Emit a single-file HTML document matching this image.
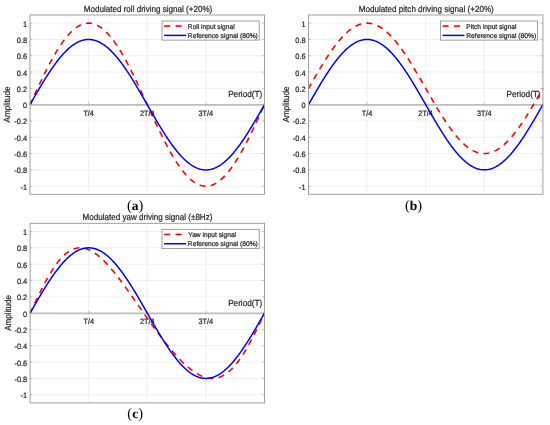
<!DOCTYPE html>
<html><head><meta charset="utf-8"><title>Modulated driving signals</title>
<style>
html,body{margin:0;padding:0;background:#fff;}
svg{display:block;}
svg text{font-family:'Liberation Sans', Arial, Helvetica, sans-serif;fill:#262626;stroke:#262626;stroke-width:0.22px;text-rendering:geometricPrecision;}
svg text.pl{font-family:'Liberation Serif', 'Times New Roman', serif;fill:#000;stroke:none;}
</style></head><body>
<svg width="550" height="425" viewBox="0 0 550 425">
<rect width="550" height="425" fill="#fff"/>
<line x1="30" y1="186.2" x2="264.5" y2="186.2" stroke="#ebebeb" stroke-width="0.8"/>
<line x1="30" y1="169.89" x2="264.5" y2="169.89" stroke="#ebebeb" stroke-width="0.8"/>
<line x1="30" y1="153.59" x2="264.5" y2="153.59" stroke="#ebebeb" stroke-width="0.8"/>
<line x1="30" y1="137.28" x2="264.5" y2="137.28" stroke="#ebebeb" stroke-width="0.8"/>
<line x1="30" y1="120.98" x2="264.5" y2="120.98" stroke="#ebebeb" stroke-width="0.8"/>
<line x1="30" y1="88.37" x2="264.5" y2="88.37" stroke="#ebebeb" stroke-width="0.8"/>
<line x1="30" y1="72.07" x2="264.5" y2="72.07" stroke="#ebebeb" stroke-width="0.8"/>
<line x1="30" y1="55.76" x2="264.5" y2="55.76" stroke="#ebebeb" stroke-width="0.8"/>
<line x1="30" y1="39.46" x2="264.5" y2="39.46" stroke="#ebebeb" stroke-width="0.8"/>
<line x1="30" y1="23.15" x2="264.5" y2="23.15" stroke="#ebebeb" stroke-width="0.8"/>
<line x1="88.62" y1="15" x2="88.62" y2="194.35" stroke="#ebebeb" stroke-width="0.8"/>
<line x1="147.25" y1="15" x2="147.25" y2="194.35" stroke="#ebebeb" stroke-width="0.8"/>
<line x1="205.88" y1="15" x2="205.88" y2="194.35" stroke="#ebebeb" stroke-width="0.8"/>
<line x1="30" y1="104.97" x2="264.5" y2="104.97" stroke="#bdbdbd" stroke-width="1.8"/>
<line x1="88.62" y1="104.67" x2="88.62" y2="102.38" stroke="#a0a0a0" stroke-width="0.6"/>
<text x="83.38" y="115.88" font-size="7.8" textLength="10.55" lengthAdjust="spacingAndGlyphs">T/4</text>
<line x1="147.25" y1="104.67" x2="147.25" y2="102.38" stroke="#a0a0a0" stroke-width="0.6"/>
<text x="139.88" y="115.88" font-size="7.8" textLength="14.61" lengthAdjust="spacingAndGlyphs">2T/4</text>
<line x1="205.88" y1="104.67" x2="205.88" y2="102.38" stroke="#a0a0a0" stroke-width="0.6"/>
<text x="198.55" y="115.88" font-size="7.8" textLength="14.61" lengthAdjust="spacingAndGlyphs">3T/4</text>
<text x="228.13" y="97.47" font-size="8.8" textLength="34.09" lengthAdjust="spacingAndGlyphs">Period(T)</text>
<polyline points="30,104.67 30.78,102.97 31.56,101.26 32.34,99.56 33.13,97.85 33.91,96.15 34.69,94.46 35.47,92.77 36.25,91.08 37.03,89.4 37.82,87.73 38.6,86.06 39.38,84.4 40.16,82.75 40.94,81.11 41.73,79.48 42.51,77.86 43.29,76.26 44.07,74.66 44.85,73.08 45.63,71.52 46.42,69.96 47.2,68.43 47.98,66.91 48.76,65.4 49.54,63.91 50.32,62.44 51.11,60.99 51.89,59.56 52.67,58.15 53.45,56.76 54.23,55.39 55.01,54.04 55.8,52.71 56.58,51.41 57.36,50.13 58.14,48.87 58.92,47.64 59.7,46.43 60.48,45.25 61.27,44.09 62.05,42.96 62.83,41.86 63.61,40.79 64.39,39.74 65.17,38.72 65.96,37.73 66.74,36.77 67.52,35.84 68.3,34.94 69.08,34.07 69.87,33.24 70.65,32.43 71.43,31.65 72.21,30.91 72.99,30.2 73.77,29.52 74.56,28.88 75.34,28.27 76.12,27.69 76.9,27.14 77.68,26.63 78.46,26.16 79.25,25.71 80.03,25.31 80.81,24.93 81.59,24.6 82.37,24.29 83.15,24.03 83.94,23.8 84.72,23.6 85.5,23.44 86.28,23.31 87.06,23.22 87.84,23.17 88.62,23.15 89.41,23.17 90.19,23.22 90.97,23.31 91.75,23.44 92.53,23.6 93.31,23.8 94.1,24.03 94.88,24.29 95.66,24.6 96.44,24.93 97.22,25.31 98,25.71 98.79,26.16 99.57,26.63 100.35,27.14 101.13,27.69 101.91,28.27 102.69,28.88 103.48,29.52 104.26,30.2 105.04,30.91 105.82,31.65 106.6,32.43 107.39,33.24 108.17,34.07 108.95,34.94 109.73,35.84 110.51,36.77 111.29,37.73 112.07,38.72 112.86,39.74 113.64,40.79 114.42,41.86 115.2,42.96 115.98,44.09 116.77,45.25 117.55,46.43 118.33,47.64 119.11,48.87 119.89,50.13 120.67,51.41 121.45,52.71 122.24,54.04 123.02,55.39 123.8,56.76 124.58,58.15 125.36,59.56 126.14,60.99 126.93,62.44 127.71,63.91 128.49,65.4 129.27,66.91 130.05,68.43 130.83,69.96 131.62,71.52 132.4,73.08 133.18,74.66 133.96,76.26 134.74,77.86 135.53,79.48 136.31,81.11 137.09,82.75 137.87,84.4 138.65,86.06 139.43,87.73 140.21,89.4 141,91.08 141.78,92.77 142.56,94.46 143.34,96.15 144.12,97.85 144.91,99.56 145.69,101.26 146.47,102.97 147.25,104.67 148.03,106.38 148.81,108.09 149.59,109.79 150.38,111.5 151.16,113.2 151.94,114.89 152.72,116.58 153.5,118.27 154.29,119.95 155.07,121.62 155.85,123.29 156.63,124.95 157.41,126.6 158.19,128.24 158.98,129.87 159.76,131.49 160.54,133.09 161.32,134.69 162.1,136.27 162.88,137.83 163.66,139.39 164.45,140.92 165.23,142.44 166.01,143.95 166.79,145.44 167.57,146.91 168.35,148.36 169.14,149.79 169.92,151.2 170.7,152.59 171.48,153.96 172.26,155.31 173.04,156.64 173.83,157.94 174.61,159.22 175.39,160.48 176.17,161.71 176.95,162.92 177.74,164.1 178.52,165.26 179.3,166.39 180.08,167.49 180.86,168.56 181.64,169.61 182.43,170.63 183.21,171.62 183.99,172.58 184.77,173.51 185.55,174.41 186.33,175.28 187.12,176.11 187.9,176.92 188.68,177.7 189.46,178.44 190.24,179.15 191.02,179.83 191.8,180.47 192.59,181.08 193.37,181.66 194.15,182.21 194.93,182.72 195.71,183.19 196.5,183.64 197.28,184.04 198.06,184.42 198.84,184.75 199.62,185.06 200.4,185.32 201.19,185.55 201.97,185.75 202.75,185.91 203.53,186.04 204.31,186.13 205.09,186.18 205.88,186.2 206.66,186.18 207.44,186.13 208.22,186.04 209,185.91 209.78,185.75 210.56,185.55 211.35,185.32 212.13,185.06 212.91,184.75 213.69,184.42 214.47,184.04 215.25,183.64 216.04,183.19 216.82,182.72 217.6,182.21 218.38,181.66 219.16,181.08 219.95,180.47 220.73,179.83 221.51,179.15 222.29,178.44 223.07,177.7 223.85,176.92 224.63,176.11 225.42,175.28 226.2,174.41 226.98,173.51 227.76,172.58 228.54,171.62 229.32,170.63 230.11,169.61 230.89,168.56 231.67,167.49 232.45,166.39 233.23,165.26 234.01,164.1 234.8,162.92 235.58,161.71 236.36,160.48 237.14,159.22 237.92,157.94 238.71,156.64 239.49,155.31 240.27,153.96 241.05,152.59 241.83,151.2 242.61,149.79 243.4,148.36 244.18,146.91 244.96,145.44 245.74,143.95 246.52,142.44 247.3,140.92 248.09,139.39 248.87,137.83 249.65,136.27 250.43,134.69 251.21,133.09 251.99,131.49 252.77,129.87 253.56,128.24 254.34,126.6 255.12,124.95 255.9,123.29 256.68,121.62 257.47,119.95 258.25,118.27 259.03,116.58 259.81,114.89 260.59,113.2 261.37,111.5 262.15,109.79 262.94,108.09 263.72,106.38 264.5,104.68" fill="none" stroke="#ff0000" stroke-width="1.6" stroke-dasharray="6 5.34" stroke-dashoffset="0.6"/>
<polyline points="30,104.67 30.78,103.31 31.56,101.94 32.34,100.58 33.13,99.22 33.91,97.86 34.69,96.5 35.47,95.15 36.25,93.8 37.03,92.45 37.82,91.12 38.6,89.78 39.38,88.46 40.16,87.14 40.94,85.82 41.73,84.52 42.51,83.23 43.29,81.94 44.07,80.67 44.85,79.4 45.63,78.15 46.42,76.91 47.2,75.68 47.98,74.46 48.76,73.26 49.54,72.07 50.32,70.89 51.11,69.73 51.89,68.58 52.67,67.45 53.45,66.34 54.23,65.24 55.01,64.16 55.8,63.1 56.58,62.06 57.36,61.04 58.14,60.03 58.92,59.04 59.7,58.08 60.48,57.13 61.27,56.21 62.05,55.31 62.83,54.42 63.61,53.56 64.39,52.73 65.17,51.91 65.96,51.12 66.74,50.35 67.52,49.61 68.3,48.89 69.08,48.19 69.87,47.52 70.65,46.88 71.43,46.26 72.21,45.66 72.99,45.1 73.77,44.55 74.56,44.04 75.34,43.55 76.12,43.08 76.9,42.65 77.68,42.24 78.46,41.86 79.25,41.51 80.03,41.18 80.81,40.88 81.59,40.61 82.37,40.37 83.15,40.16 83.94,39.97 84.72,39.81 85.5,39.69 86.28,39.59 87.06,39.51 87.84,39.47 88.62,39.46 89.41,39.47 90.19,39.51 90.97,39.59 91.75,39.69 92.53,39.81 93.31,39.97 94.1,40.16 94.88,40.37 95.66,40.61 96.44,40.88 97.22,41.18 98,41.51 98.79,41.86 99.57,42.24 100.35,42.65 101.13,43.08 101.91,43.55 102.69,44.04 103.48,44.55 104.26,45.1 105.04,45.66 105.82,46.26 106.6,46.88 107.39,47.52 108.17,48.19 108.95,48.89 109.73,49.61 110.51,50.35 111.29,51.12 112.07,51.91 112.86,52.73 113.64,53.56 114.42,54.42 115.2,55.31 115.98,56.21 116.77,57.13 117.55,58.08 118.33,59.04 119.11,60.03 119.89,61.04 120.67,62.06 121.45,63.1 122.24,64.16 123.02,65.24 123.8,66.34 124.58,67.45 125.36,68.58 126.14,69.73 126.93,70.89 127.71,72.07 128.49,73.26 129.27,74.46 130.05,75.68 130.83,76.91 131.62,78.15 132.4,79.4 133.18,80.67 133.96,81.94 134.74,83.23 135.53,84.52 136.31,85.82 137.09,87.14 137.87,88.46 138.65,89.78 139.43,91.12 140.21,92.45 141,93.8 141.78,95.15 142.56,96.5 143.34,97.86 144.12,99.22 144.91,100.58 145.69,101.94 146.47,103.31 147.25,104.67 148.03,106.04 148.81,107.41 149.59,108.77 150.38,110.13 151.16,111.49 151.94,112.85 152.72,114.2 153.5,115.55 154.29,116.9 155.07,118.23 155.85,119.57 156.63,120.89 157.41,122.21 158.19,123.53 158.98,124.83 159.76,126.12 160.54,127.41 161.32,128.68 162.1,129.95 162.88,131.2 163.66,132.44 164.45,133.67 165.23,134.89 166.01,136.09 166.79,137.28 167.57,138.46 168.35,139.62 169.14,140.77 169.92,141.9 170.7,143.01 171.48,144.11 172.26,145.19 173.04,146.25 173.83,147.29 174.61,148.31 175.39,149.32 176.17,150.31 176.95,151.27 177.74,152.22 178.52,153.14 179.3,154.04 180.08,154.93 180.86,155.79 181.64,156.62 182.43,157.44 183.21,158.23 183.99,159 184.77,159.74 185.55,160.46 186.33,161.16 187.12,161.83 187.9,162.47 188.68,163.09 189.46,163.69 190.24,164.25 191.02,164.8 191.8,165.31 192.59,165.8 193.37,166.27 194.15,166.7 194.93,167.11 195.71,167.49 196.5,167.84 197.28,168.17 198.06,168.47 198.84,168.74 199.62,168.98 200.4,169.19 201.19,169.38 201.97,169.54 202.75,169.66 203.53,169.76 204.31,169.84 205.09,169.88 205.88,169.89 206.66,169.88 207.44,169.84 208.22,169.76 209,169.66 209.78,169.54 210.56,169.38 211.35,169.19 212.13,168.98 212.91,168.74 213.69,168.47 214.47,168.17 215.25,167.84 216.04,167.49 216.82,167.11 217.6,166.7 218.38,166.27 219.16,165.8 219.95,165.31 220.73,164.8 221.51,164.25 222.29,163.69 223.07,163.09 223.85,162.47 224.63,161.83 225.42,161.16 226.2,160.46 226.98,159.74 227.76,159 228.54,158.23 229.32,157.44 230.11,156.62 230.89,155.79 231.67,154.93 232.45,154.04 233.23,153.14 234.01,152.22 234.8,151.27 235.58,150.31 236.36,149.32 237.14,148.31 237.92,147.29 238.71,146.25 239.49,145.19 240.27,144.11 241.05,143.01 241.83,141.9 242.61,140.77 243.4,139.62 244.18,138.46 244.96,137.28 245.74,136.09 246.52,134.89 247.3,133.67 248.09,132.44 248.87,131.2 249.65,129.95 250.43,128.68 251.21,127.41 251.99,126.12 252.77,124.83 253.56,123.53 254.34,122.21 255.12,120.89 255.9,119.57 256.68,118.23 257.47,116.9 258.25,115.55 259.03,114.2 259.81,112.85 260.59,111.49 261.37,110.13 262.15,108.77 262.94,107.41 263.72,106.04 264.5,104.68" fill="none" stroke="#0000ff" stroke-width="1.5"/>
<rect x="30" y="15" width="234.5" height="179.35" fill="none" stroke="#a0a0a0" stroke-width="1"/>
<line x1="30" y1="186.2" x2="32.3" y2="186.2" stroke="#a0a0a0" stroke-width="0.6"/>
<line x1="262.2" y1="186.2" x2="264.5" y2="186.2" stroke="#a0a0a0" stroke-width="0.6"/>
<text x="20.52" y="189.7" font-size="7.8" textLength="6.58" lengthAdjust="spacingAndGlyphs">-1</text>
<line x1="30" y1="169.89" x2="32.3" y2="169.89" stroke="#a0a0a0" stroke-width="0.6"/>
<line x1="262.2" y1="169.89" x2="264.5" y2="169.89" stroke="#a0a0a0" stroke-width="0.6"/>
<text x="14.35" y="173.39" font-size="7.8" textLength="12.75" lengthAdjust="spacingAndGlyphs">-0.8</text>
<line x1="30" y1="153.59" x2="32.3" y2="153.59" stroke="#a0a0a0" stroke-width="0.6"/>
<line x1="262.2" y1="153.59" x2="264.5" y2="153.59" stroke="#a0a0a0" stroke-width="0.6"/>
<text x="14.35" y="157.09" font-size="7.8" textLength="12.75" lengthAdjust="spacingAndGlyphs">-0.6</text>
<line x1="30" y1="137.28" x2="32.3" y2="137.28" stroke="#a0a0a0" stroke-width="0.6"/>
<line x1="262.2" y1="137.28" x2="264.5" y2="137.28" stroke="#a0a0a0" stroke-width="0.6"/>
<text x="14.35" y="140.78" font-size="7.8" textLength="12.75" lengthAdjust="spacingAndGlyphs">-0.4</text>
<line x1="30" y1="120.98" x2="32.3" y2="120.98" stroke="#a0a0a0" stroke-width="0.6"/>
<line x1="262.2" y1="120.98" x2="264.5" y2="120.98" stroke="#a0a0a0" stroke-width="0.6"/>
<text x="14.35" y="124.48" font-size="7.8" textLength="12.75" lengthAdjust="spacingAndGlyphs">-0.2</text>
<line x1="30" y1="104.67" x2="32.3" y2="104.67" stroke="#a0a0a0" stroke-width="0.6"/>
<line x1="262.2" y1="104.67" x2="264.5" y2="104.67" stroke="#a0a0a0" stroke-width="0.6"/>
<text x="22.98" y="108.17" font-size="7.8" textLength="4.12" lengthAdjust="spacingAndGlyphs">0</text>
<line x1="30" y1="88.37" x2="32.3" y2="88.37" stroke="#a0a0a0" stroke-width="0.6"/>
<line x1="262.2" y1="88.37" x2="264.5" y2="88.37" stroke="#a0a0a0" stroke-width="0.6"/>
<text x="16.81" y="91.87" font-size="7.8" textLength="10.29" lengthAdjust="spacingAndGlyphs">0.2</text>
<line x1="30" y1="72.07" x2="32.3" y2="72.07" stroke="#a0a0a0" stroke-width="0.6"/>
<line x1="262.2" y1="72.07" x2="264.5" y2="72.07" stroke="#a0a0a0" stroke-width="0.6"/>
<text x="16.81" y="75.57" font-size="7.8" textLength="10.29" lengthAdjust="spacingAndGlyphs">0.4</text>
<line x1="30" y1="55.76" x2="32.3" y2="55.76" stroke="#a0a0a0" stroke-width="0.6"/>
<line x1="262.2" y1="55.76" x2="264.5" y2="55.76" stroke="#a0a0a0" stroke-width="0.6"/>
<text x="16.81" y="59.26" font-size="7.8" textLength="10.29" lengthAdjust="spacingAndGlyphs">0.6</text>
<line x1="30" y1="39.46" x2="32.3" y2="39.46" stroke="#a0a0a0" stroke-width="0.6"/>
<line x1="262.2" y1="39.46" x2="264.5" y2="39.46" stroke="#a0a0a0" stroke-width="0.6"/>
<text x="16.81" y="42.96" font-size="7.8" textLength="10.29" lengthAdjust="spacingAndGlyphs">0.8</text>
<line x1="30" y1="23.15" x2="32.3" y2="23.15" stroke="#a0a0a0" stroke-width="0.6"/>
<line x1="262.2" y1="23.15" x2="264.5" y2="23.15" stroke="#a0a0a0" stroke-width="0.6"/>
<text x="22.98" y="26.65" font-size="7.8" textLength="4.12" lengthAdjust="spacingAndGlyphs">1</text>
<g transform="translate(10.4,104.67) rotate(-90)"><text x="-17.72" y="0" font-size="8.8" textLength="35.78" lengthAdjust="spacingAndGlyphs">Amplitude</text></g>
<text x="83.74" y="11.9" font-size="8.8" textLength="128.57" lengthAdjust="spacingAndGlyphs">Modulated roll driving signal (+20%)</text>
<rect x="162" y="21" width="97.2" height="19.1" fill="#fff" stroke="#8a8a8a" stroke-width="0.8"/>
<line x1="164.1" y1="26.1" x2="170.1" y2="26.1" stroke="#ff0000" stroke-width="1.6"/>
<line x1="175.6" y1="26.1" x2="181.6" y2="26.1" stroke="#ff0000" stroke-width="1.6"/>
<line x1="164.1" y1="35.4" x2="186.1" y2="35.4" stroke="#0000ff" stroke-width="1.5"/>
<text x="187.86" y="28.6" font-size="6.9" textLength="46.8" lengthAdjust="spacingAndGlyphs">Roll input signal</text>
<text x="187.85" y="37.9" font-size="6.9" textLength="69.98" lengthAdjust="spacingAndGlyphs">Reference signal (80%)</text>
<line x1="308.5" y1="186.15" x2="542.9" y2="186.15" stroke="#ebebeb" stroke-width="0.8"/>
<line x1="308.5" y1="169.85" x2="542.9" y2="169.85" stroke="#ebebeb" stroke-width="0.8"/>
<line x1="308.5" y1="153.55" x2="542.9" y2="153.55" stroke="#ebebeb" stroke-width="0.8"/>
<line x1="308.5" y1="137.25" x2="542.9" y2="137.25" stroke="#ebebeb" stroke-width="0.8"/>
<line x1="308.5" y1="120.95" x2="542.9" y2="120.95" stroke="#ebebeb" stroke-width="0.8"/>
<line x1="308.5" y1="88.35" x2="542.9" y2="88.35" stroke="#ebebeb" stroke-width="0.8"/>
<line x1="308.5" y1="72.05" x2="542.9" y2="72.05" stroke="#ebebeb" stroke-width="0.8"/>
<line x1="308.5" y1="55.75" x2="542.9" y2="55.75" stroke="#ebebeb" stroke-width="0.8"/>
<line x1="308.5" y1="39.45" x2="542.9" y2="39.45" stroke="#ebebeb" stroke-width="0.8"/>
<line x1="308.5" y1="23.15" x2="542.9" y2="23.15" stroke="#ebebeb" stroke-width="0.8"/>
<line x1="367.1" y1="15" x2="367.1" y2="194.3" stroke="#ebebeb" stroke-width="0.8"/>
<line x1="425.7" y1="15" x2="425.7" y2="194.3" stroke="#ebebeb" stroke-width="0.8"/>
<line x1="484.3" y1="15" x2="484.3" y2="194.3" stroke="#ebebeb" stroke-width="0.8"/>
<line x1="308.5" y1="104.95" x2="542.9" y2="104.95" stroke="#bdbdbd" stroke-width="1.8"/>
<line x1="367.1" y1="104.65" x2="367.1" y2="102.35" stroke="#a0a0a0" stroke-width="0.6"/>
<text x="361.86" y="115.85" font-size="7.8" textLength="10.55" lengthAdjust="spacingAndGlyphs">T/4</text>
<line x1="425.7" y1="104.65" x2="425.7" y2="102.35" stroke="#a0a0a0" stroke-width="0.6"/>
<text x="418.33" y="115.85" font-size="7.8" textLength="14.61" lengthAdjust="spacingAndGlyphs">2T/4</text>
<line x1="484.3" y1="104.65" x2="484.3" y2="102.35" stroke="#a0a0a0" stroke-width="0.6"/>
<text x="476.97" y="115.85" font-size="7.8" textLength="14.61" lengthAdjust="spacingAndGlyphs">3T/4</text>
<text x="506.53" y="97.45" font-size="8.8" textLength="34.09" lengthAdjust="spacingAndGlyphs">Period(T)</text>
<polyline points="308.5,88.35 309.28,86.98 310.06,85.62 310.84,84.26 311.63,82.89 312.41,81.53 313.19,80.18 313.97,78.83 314.75,77.48 315.53,76.13 316.31,74.79 317.09,73.46 317.88,72.14 318.66,70.82 319.44,69.51 320.22,68.2 321,66.91 321.78,65.62 322.56,64.35 323.35,63.08 324.13,61.83 324.91,60.59 325.69,59.36 326.47,58.14 327.25,56.94 328.03,55.75 328.81,54.57 329.6,53.41 330.38,52.27 331.16,51.14 331.94,50.03 332.72,48.93 333.5,47.85 334.28,46.79 335.07,45.75 335.85,44.72 336.63,43.72 337.41,42.73 338.19,41.77 338.97,40.82 339.75,39.9 340.53,38.99 341.32,38.11 342.1,37.25 342.88,36.42 343.66,35.6 344.44,34.81 345.22,34.04 346,33.3 346.79,32.58 347.57,31.89 348.35,31.21 349.13,30.57 349.91,29.95 350.69,29.36 351.47,28.79 352.25,28.24 353.04,27.73 353.82,27.24 354.6,26.78 355.38,26.34 356.16,25.93 356.94,25.55 357.72,25.2 358.51,24.87 359.29,24.57 360.07,24.3 360.85,24.06 361.63,23.85 362.41,23.66 363.19,23.51 363.97,23.38 364.76,23.28 365.54,23.21 366.32,23.16 367.1,23.15 367.88,23.16 368.66,23.21 369.44,23.28 370.23,23.38 371.01,23.51 371.79,23.66 372.57,23.85 373.35,24.06 374.13,24.3 374.91,24.57 375.69,24.87 376.48,25.2 377.26,25.55 378.04,25.93 378.82,26.34 379.6,26.78 380.38,27.24 381.16,27.73 381.95,28.24 382.73,28.79 383.51,29.36 384.29,29.95 385.07,30.57 385.85,31.21 386.63,31.89 387.41,32.58 388.2,33.3 388.98,34.04 389.76,34.81 390.54,35.6 391.32,36.42 392.1,37.25 392.88,38.11 393.67,38.99 394.45,39.9 395.23,40.82 396.01,41.77 396.79,42.73 397.57,43.72 398.35,44.72 399.13,45.75 399.92,46.79 400.7,47.85 401.48,48.93 402.26,50.03 403.04,51.14 403.82,52.27 404.6,53.41 405.39,54.57 406.17,55.75 406.95,56.94 407.73,58.14 408.51,59.36 409.29,60.59 410.07,61.83 410.85,63.08 411.64,64.35 412.42,65.62 413.2,66.91 413.98,68.2 414.76,69.51 415.54,70.82 416.32,72.14 417.11,73.46 417.89,74.79 418.67,76.13 419.45,77.48 420.23,78.83 421.01,80.18 421.79,81.53 422.57,82.89 423.36,84.26 424.14,85.62 424.92,86.98 425.7,88.35 426.48,89.72 427.26,91.08 428.04,92.44 428.83,93.81 429.61,95.17 430.39,96.52 431.17,97.87 431.95,99.22 432.73,100.57 433.51,101.91 434.29,103.24 435.08,104.56 435.86,105.88 436.64,107.19 437.42,108.5 438.2,109.79 438.98,111.08 439.76,112.35 440.55,113.62 441.33,114.87 442.11,116.11 442.89,117.34 443.67,118.56 444.45,119.76 445.23,120.95 446.01,122.13 446.8,123.29 447.58,124.43 448.36,125.56 449.14,126.67 449.92,127.77 450.7,128.85 451.48,129.91 452.27,130.95 453.05,131.98 453.83,132.98 454.61,133.97 455.39,134.93 456.17,135.88 456.95,136.8 457.73,137.71 458.52,138.59 459.3,139.45 460.08,140.28 460.86,141.1 461.64,141.89 462.42,142.66 463.2,143.4 463.99,144.12 464.77,144.81 465.55,145.49 466.33,146.13 467.11,146.75 467.89,147.34 468.67,147.91 469.45,148.46 470.24,148.97 471.02,149.46 471.8,149.92 472.58,150.36 473.36,150.77 474.14,151.15 474.92,151.5 475.71,151.83 476.49,152.13 477.27,152.4 478.05,152.64 478.83,152.85 479.61,153.04 480.39,153.19 481.17,153.32 481.96,153.42 482.74,153.49 483.52,153.54 484.3,153.55 485.08,153.54 485.86,153.49 486.64,153.42 487.43,153.32 488.21,153.19 488.99,153.04 489.77,152.85 490.55,152.64 491.33,152.4 492.11,152.13 492.89,151.83 493.68,151.5 494.46,151.15 495.24,150.77 496.02,150.36 496.8,149.92 497.58,149.46 498.36,148.97 499.15,148.46 499.93,147.91 500.71,147.34 501.49,146.75 502.27,146.13 503.05,145.49 503.83,144.81 504.61,144.12 505.4,143.4 506.18,142.66 506.96,141.89 507.74,141.1 508.52,140.28 509.3,139.45 510.08,138.59 510.87,137.71 511.65,136.8 512.43,135.88 513.21,134.93 513.99,133.97 514.77,132.98 515.55,131.98 516.33,130.95 517.12,129.91 517.9,128.85 518.68,127.77 519.46,126.67 520.24,125.56 521.02,124.43 521.8,123.29 522.59,122.13 523.37,120.95 524.15,119.76 524.93,118.56 525.71,117.34 526.49,116.11 527.27,114.87 528.05,113.62 528.84,112.35 529.62,111.08 530.4,109.79 531.18,108.5 531.96,107.19 532.74,105.88 533.52,104.56 534.31,103.24 535.09,101.91 535.87,100.57 536.65,99.22 537.43,97.87 538.21,96.52 538.99,95.17 539.77,93.81 540.56,92.44 541.34,91.08 542.12,89.72 542.9,88.35" fill="none" stroke="#ff0000" stroke-width="1.6" stroke-dasharray="6 5.34" stroke-dashoffset="0.6"/>
<polyline points="308.5,104.65 309.28,103.28 310.06,101.92 310.84,100.56 311.63,99.19 312.41,97.83 313.19,96.48 313.97,95.13 314.75,93.78 315.53,92.43 316.31,91.09 317.09,89.76 317.88,88.44 318.66,87.12 319.44,85.81 320.22,84.5 321,83.21 321.78,81.92 322.56,80.65 323.35,79.38 324.13,78.13 324.91,76.89 325.69,75.66 326.47,74.44 327.25,73.24 328.03,72.05 328.81,70.87 329.6,69.71 330.38,68.57 331.16,67.44 331.94,66.33 332.72,65.23 333.5,64.15 334.28,63.09 335.07,62.05 335.85,61.02 336.63,60.02 337.41,59.03 338.19,58.07 338.97,57.12 339.75,56.2 340.53,55.29 341.32,54.41 342.1,53.55 342.88,52.72 343.66,51.9 344.44,51.11 345.22,50.34 346,49.6 346.79,48.88 347.57,48.19 348.35,47.51 349.13,46.87 349.91,46.25 350.69,45.66 351.47,45.09 352.25,44.54 353.04,44.03 353.82,43.54 354.6,43.08 355.38,42.64 356.16,42.23 356.94,41.85 357.72,41.5 358.51,41.17 359.29,40.87 360.07,40.6 360.85,40.36 361.63,40.15 362.41,39.96 363.19,39.81 363.97,39.68 364.76,39.58 365.54,39.51 366.32,39.46 367.1,39.45 367.88,39.46 368.66,39.51 369.44,39.58 370.23,39.68 371.01,39.81 371.79,39.96 372.57,40.15 373.35,40.36 374.13,40.6 374.91,40.87 375.69,41.17 376.48,41.5 377.26,41.85 378.04,42.23 378.82,42.64 379.6,43.08 380.38,43.54 381.16,44.03 381.95,44.54 382.73,45.09 383.51,45.66 384.29,46.25 385.07,46.87 385.85,47.51 386.63,48.19 387.41,48.88 388.2,49.6 388.98,50.34 389.76,51.11 390.54,51.9 391.32,52.72 392.1,53.55 392.88,54.41 393.67,55.29 394.45,56.2 395.23,57.12 396.01,58.07 396.79,59.03 397.57,60.02 398.35,61.02 399.13,62.05 399.92,63.09 400.7,64.15 401.48,65.23 402.26,66.33 403.04,67.44 403.82,68.57 404.6,69.71 405.39,70.87 406.17,72.05 406.95,73.24 407.73,74.44 408.51,75.66 409.29,76.89 410.07,78.13 410.85,79.38 411.64,80.65 412.42,81.92 413.2,83.21 413.98,84.5 414.76,85.81 415.54,87.12 416.32,88.44 417.11,89.76 417.89,91.09 418.67,92.43 419.45,93.78 420.23,95.13 421.01,96.48 421.79,97.83 422.57,99.19 423.36,100.56 424.14,101.92 424.92,103.28 425.7,104.65 426.48,106.02 427.26,107.38 428.04,108.74 428.83,110.11 429.61,111.47 430.39,112.82 431.17,114.17 431.95,115.52 432.73,116.87 433.51,118.21 434.29,119.54 435.08,120.86 435.86,122.18 436.64,123.49 437.42,124.8 438.2,126.09 438.98,127.38 439.76,128.65 440.55,129.92 441.33,131.17 442.11,132.41 442.89,133.64 443.67,134.86 444.45,136.06 445.23,137.25 446.01,138.43 446.8,139.59 447.58,140.73 448.36,141.86 449.14,142.97 449.92,144.07 450.7,145.15 451.48,146.21 452.27,147.25 453.05,148.28 453.83,149.28 454.61,150.27 455.39,151.23 456.17,152.18 456.95,153.1 457.73,154.01 458.52,154.89 459.3,155.75 460.08,156.58 460.86,157.4 461.64,158.19 462.42,158.96 463.2,159.7 463.99,160.42 464.77,161.11 465.55,161.79 466.33,162.43 467.11,163.05 467.89,163.64 468.67,164.21 469.45,164.76 470.24,165.27 471.02,165.76 471.8,166.22 472.58,166.66 473.36,167.07 474.14,167.45 474.92,167.8 475.71,168.13 476.49,168.43 477.27,168.7 478.05,168.94 478.83,169.15 479.61,169.34 480.39,169.49 481.17,169.62 481.96,169.72 482.74,169.79 483.52,169.84 484.3,169.85 485.08,169.84 485.86,169.79 486.64,169.72 487.43,169.62 488.21,169.49 488.99,169.34 489.77,169.15 490.55,168.94 491.33,168.7 492.11,168.43 492.89,168.13 493.68,167.8 494.46,167.45 495.24,167.07 496.02,166.66 496.8,166.22 497.58,165.76 498.36,165.27 499.15,164.76 499.93,164.21 500.71,163.64 501.49,163.05 502.27,162.43 503.05,161.79 503.83,161.11 504.61,160.42 505.4,159.7 506.18,158.96 506.96,158.19 507.74,157.4 508.52,156.58 509.3,155.75 510.08,154.89 510.87,154.01 511.65,153.1 512.43,152.18 513.21,151.23 513.99,150.27 514.77,149.28 515.55,148.28 516.33,147.25 517.12,146.21 517.9,145.15 518.68,144.07 519.46,142.97 520.24,141.86 521.02,140.73 521.8,139.59 522.59,138.43 523.37,137.25 524.15,136.06 524.93,134.86 525.71,133.64 526.49,132.41 527.27,131.17 528.05,129.92 528.84,128.65 529.62,127.38 530.4,126.09 531.18,124.8 531.96,123.49 532.74,122.18 533.52,120.86 534.31,119.54 535.09,118.21 535.87,116.87 536.65,115.52 537.43,114.17 538.21,112.82 538.99,111.47 539.77,110.11 540.56,108.74 541.34,107.38 542.12,106.02 542.9,104.65" fill="none" stroke="#0000ff" stroke-width="1.5"/>
<rect x="308.5" y="15" width="234.4" height="179.3" fill="none" stroke="#a0a0a0" stroke-width="1"/>
<line x1="308.5" y1="186.15" x2="310.8" y2="186.15" stroke="#a0a0a0" stroke-width="0.6"/>
<line x1="540.6" y1="186.15" x2="542.9" y2="186.15" stroke="#a0a0a0" stroke-width="0.6"/>
<text x="299.02" y="189.65" font-size="7.8" textLength="6.58" lengthAdjust="spacingAndGlyphs">-1</text>
<line x1="308.5" y1="169.85" x2="310.8" y2="169.85" stroke="#a0a0a0" stroke-width="0.6"/>
<line x1="540.6" y1="169.85" x2="542.9" y2="169.85" stroke="#a0a0a0" stroke-width="0.6"/>
<text x="292.85" y="173.35" font-size="7.8" textLength="12.75" lengthAdjust="spacingAndGlyphs">-0.8</text>
<line x1="308.5" y1="153.55" x2="310.8" y2="153.55" stroke="#a0a0a0" stroke-width="0.6"/>
<line x1="540.6" y1="153.55" x2="542.9" y2="153.55" stroke="#a0a0a0" stroke-width="0.6"/>
<text x="292.85" y="157.05" font-size="7.8" textLength="12.75" lengthAdjust="spacingAndGlyphs">-0.6</text>
<line x1="308.5" y1="137.25" x2="310.8" y2="137.25" stroke="#a0a0a0" stroke-width="0.6"/>
<line x1="540.6" y1="137.25" x2="542.9" y2="137.25" stroke="#a0a0a0" stroke-width="0.6"/>
<text x="292.85" y="140.75" font-size="7.8" textLength="12.75" lengthAdjust="spacingAndGlyphs">-0.4</text>
<line x1="308.5" y1="120.95" x2="310.8" y2="120.95" stroke="#a0a0a0" stroke-width="0.6"/>
<line x1="540.6" y1="120.95" x2="542.9" y2="120.95" stroke="#a0a0a0" stroke-width="0.6"/>
<text x="292.85" y="124.45" font-size="7.8" textLength="12.75" lengthAdjust="spacingAndGlyphs">-0.2</text>
<line x1="308.5" y1="104.65" x2="310.8" y2="104.65" stroke="#a0a0a0" stroke-width="0.6"/>
<line x1="540.6" y1="104.65" x2="542.9" y2="104.65" stroke="#a0a0a0" stroke-width="0.6"/>
<text x="301.48" y="108.15" font-size="7.8" textLength="4.12" lengthAdjust="spacingAndGlyphs">0</text>
<line x1="308.5" y1="88.35" x2="310.8" y2="88.35" stroke="#a0a0a0" stroke-width="0.6"/>
<line x1="540.6" y1="88.35" x2="542.9" y2="88.35" stroke="#a0a0a0" stroke-width="0.6"/>
<text x="295.31" y="91.85" font-size="7.8" textLength="10.29" lengthAdjust="spacingAndGlyphs">0.2</text>
<line x1="308.5" y1="72.05" x2="310.8" y2="72.05" stroke="#a0a0a0" stroke-width="0.6"/>
<line x1="540.6" y1="72.05" x2="542.9" y2="72.05" stroke="#a0a0a0" stroke-width="0.6"/>
<text x="295.31" y="75.55" font-size="7.8" textLength="10.29" lengthAdjust="spacingAndGlyphs">0.4</text>
<line x1="308.5" y1="55.75" x2="310.8" y2="55.75" stroke="#a0a0a0" stroke-width="0.6"/>
<line x1="540.6" y1="55.75" x2="542.9" y2="55.75" stroke="#a0a0a0" stroke-width="0.6"/>
<text x="295.31" y="59.25" font-size="7.8" textLength="10.29" lengthAdjust="spacingAndGlyphs">0.6</text>
<line x1="308.5" y1="39.45" x2="310.8" y2="39.45" stroke="#a0a0a0" stroke-width="0.6"/>
<line x1="540.6" y1="39.45" x2="542.9" y2="39.45" stroke="#a0a0a0" stroke-width="0.6"/>
<text x="295.31" y="42.95" font-size="7.8" textLength="10.29" lengthAdjust="spacingAndGlyphs">0.8</text>
<line x1="308.5" y1="23.15" x2="310.8" y2="23.15" stroke="#a0a0a0" stroke-width="0.6"/>
<line x1="540.6" y1="23.15" x2="542.9" y2="23.15" stroke="#a0a0a0" stroke-width="0.6"/>
<text x="301.48" y="26.65" font-size="7.8" textLength="4.12" lengthAdjust="spacingAndGlyphs">1</text>
<g transform="translate(288.9,104.65) rotate(-90)"><text x="-17.72" y="0" font-size="8.8" textLength="35.78" lengthAdjust="spacingAndGlyphs">Amplitude</text></g>
<text x="358.84" y="11.8" font-size="8.8" textLength="134.98" lengthAdjust="spacingAndGlyphs">Modulated pitch driving signal (+20%)</text>
<rect x="440.4" y="21" width="97.2" height="19.1" fill="#fff" stroke="#8a8a8a" stroke-width="0.8"/>
<line x1="442.5" y1="26.1" x2="448.5" y2="26.1" stroke="#ff0000" stroke-width="1.6"/>
<line x1="454" y1="26.1" x2="460" y2="26.1" stroke="#ff0000" stroke-width="1.6"/>
<line x1="442.5" y1="35.4" x2="464.5" y2="35.4" stroke="#0000ff" stroke-width="1.5"/>
<text x="466.26" y="28.6" font-size="6.9" textLength="50.12" lengthAdjust="spacingAndGlyphs">Pitch input signal</text>
<text x="466.25" y="37.9" font-size="6.9" textLength="69.98" lengthAdjust="spacingAndGlyphs">Reference signal (80%)</text>
<line x1="30.1" y1="394.74" x2="264.5" y2="394.74" stroke="#ebebeb" stroke-width="0.8"/>
<line x1="30.1" y1="378.42" x2="264.5" y2="378.42" stroke="#ebebeb" stroke-width="0.8"/>
<line x1="30.1" y1="362.09" x2="264.5" y2="362.09" stroke="#ebebeb" stroke-width="0.8"/>
<line x1="30.1" y1="345.77" x2="264.5" y2="345.77" stroke="#ebebeb" stroke-width="0.8"/>
<line x1="30.1" y1="329.45" x2="264.5" y2="329.45" stroke="#ebebeb" stroke-width="0.8"/>
<line x1="30.1" y1="296.8" x2="264.5" y2="296.8" stroke="#ebebeb" stroke-width="0.8"/>
<line x1="30.1" y1="280.48" x2="264.5" y2="280.48" stroke="#ebebeb" stroke-width="0.8"/>
<line x1="30.1" y1="264.16" x2="264.5" y2="264.16" stroke="#ebebeb" stroke-width="0.8"/>
<line x1="30.1" y1="247.83" x2="264.5" y2="247.83" stroke="#ebebeb" stroke-width="0.8"/>
<line x1="30.1" y1="231.51" x2="264.5" y2="231.51" stroke="#ebebeb" stroke-width="0.8"/>
<line x1="88.7" y1="223.35" x2="88.7" y2="402.9" stroke="#ebebeb" stroke-width="0.8"/>
<line x1="147.3" y1="223.35" x2="147.3" y2="402.9" stroke="#ebebeb" stroke-width="0.8"/>
<line x1="205.9" y1="223.35" x2="205.9" y2="402.9" stroke="#ebebeb" stroke-width="0.8"/>
<line x1="30.1" y1="313.43" x2="264.5" y2="313.43" stroke="#bdbdbd" stroke-width="1.8"/>
<line x1="88.7" y1="313.12" x2="88.7" y2="310.82" stroke="#a0a0a0" stroke-width="0.6"/>
<text x="83.46" y="324.32" font-size="7.8" textLength="10.55" lengthAdjust="spacingAndGlyphs">T/4</text>
<line x1="147.3" y1="313.12" x2="147.3" y2="310.82" stroke="#a0a0a0" stroke-width="0.6"/>
<text x="139.93" y="324.32" font-size="7.8" textLength="14.61" lengthAdjust="spacingAndGlyphs">2T/4</text>
<line x1="205.9" y1="313.12" x2="205.9" y2="310.82" stroke="#a0a0a0" stroke-width="0.6"/>
<text x="198.57" y="324.32" font-size="7.8" textLength="14.61" lengthAdjust="spacingAndGlyphs">3T/4</text>
<text x="228.13" y="305.93" font-size="8.8" textLength="34.09" lengthAdjust="spacingAndGlyphs">Period(T)</text>
<polyline points="30.1,313.12 30.88,311.46 31.66,309.81 32.44,308.15 33.23,306.49 34.01,304.84 34.79,303.19 35.57,301.55 36.35,299.92 37.13,298.29 37.91,296.68 38.69,295.07 39.48,293.48 40.26,291.9 41.04,290.34 41.82,288.79 42.6,287.26 43.38,285.75 44.16,284.25 44.95,282.78 45.73,281.32 46.51,279.89 47.29,278.48 48.07,277.1 48.85,275.74 49.63,274.4 50.41,273.1 51.2,271.82 51.98,270.56 52.76,269.34 53.54,268.14 54.32,266.98 55.1,265.85 55.88,264.75 56.67,263.68 57.45,262.64 58.23,261.63 59.01,260.66 59.79,259.73 60.57,258.83 61.35,257.96 62.13,257.12 62.92,256.33 63.7,255.57 64.48,254.84 65.26,254.15 66.04,253.49 66.82,252.88 67.6,252.29 68.39,251.75 69.17,251.24 69.95,250.76 70.73,250.33 71.51,249.92 72.29,249.56 73.07,249.23 73.85,248.93 74.64,248.68 75.42,248.45 76.2,248.26 76.98,248.11 77.76,247.99 78.54,247.9 79.32,247.85 80.11,247.83 80.89,247.85 81.67,247.9 82.45,247.97 83.23,248.09 84.01,248.23 84.79,248.4 85.57,248.61 86.36,248.84 87.14,249.1 87.92,249.39 88.7,249.71 89.48,250.06 90.26,250.44 91.04,250.84 91.83,251.27 92.61,251.73 93.39,252.21 94.17,252.71 94.95,253.24 95.73,253.79 96.51,254.37 97.29,254.97 98.08,255.59 98.86,256.23 99.64,256.89 100.42,257.58 101.2,258.28 101.98,259 102.76,259.75 103.55,260.5 104.33,261.28 105.11,262.08 105.89,262.89 106.67,263.71 107.45,264.56 108.23,265.41 109.01,266.29 109.8,267.17 110.58,268.07 111.36,268.99 112.14,269.91 112.92,270.85 113.7,271.8 114.48,272.76 115.27,273.73 116.05,274.71 116.83,275.7 117.61,276.71 118.39,277.72 119.17,278.73 119.95,279.76 120.73,280.8 121.52,281.84 122.3,282.89 123.08,283.94 123.86,285.01 124.64,286.07 125.42,287.15 126.2,288.23 126.99,289.31 127.77,290.4 128.55,291.49 129.33,292.59 130.11,293.68 130.89,294.79 131.67,295.89 132.45,297 133.24,298.11 134.02,299.22 134.8,300.34 135.58,301.45 136.36,302.57 137.14,303.69 137.92,304.81 138.71,305.92 139.49,307.04 140.27,308.16 141.05,309.28 141.83,310.39 142.61,311.51 143.39,312.63 144.17,313.74 144.96,314.85 145.74,315.96 146.52,317.07 147.3,318.17 148.08,319.28 148.86,320.38 149.64,321.47 150.43,322.57 151.21,323.66 151.99,324.74 152.77,325.83 153.55,326.91 154.33,327.98 155.11,329.05 155.89,330.12 156.68,331.18 157.46,332.23 158.24,333.28 159.02,334.33 159.8,335.37 160.58,336.4 161.36,337.43 162.15,338.45 162.93,339.46 163.71,340.47 164.49,341.47 165.27,342.46 166.05,343.45 166.83,344.43 167.61,345.4 168.4,346.36 169.18,347.31 169.96,348.26 170.74,349.19 171.52,350.12 172.3,351.04 173.08,351.95 173.87,352.85 174.65,353.73 175.43,354.61 176.21,355.48 176.99,356.34 177.77,357.18 178.55,358.02 179.33,358.84 180.12,359.65 180.9,360.45 181.68,361.24 182.46,362.01 183.24,362.77 184.02,363.52 184.8,364.25 185.59,364.97 186.37,365.68 187.15,366.37 187.93,367.04 188.71,367.7 189.49,368.35 190.27,368.97 191.05,369.59 191.84,370.18 192.62,370.76 193.4,371.32 194.18,371.86 194.96,372.38 195.74,372.89 196.52,373.37 197.31,373.84 198.09,374.28 198.87,374.71 199.65,375.11 200.43,375.49 201.21,375.86 201.99,376.2 202.77,376.51 203.56,376.81 204.34,377.08 205.12,377.33 205.9,377.55 206.68,377.75 207.46,377.92 208.24,378.07 209.03,378.19 209.81,378.29 210.59,378.36 211.37,378.4 212.15,378.42 212.93,378.4 213.71,378.36 214.49,378.29 215.28,378.2 216.06,378.07 216.84,377.91 217.62,377.73 218.4,377.51 219.18,377.26 219.96,376.99 220.75,376.68 221.53,376.34 222.31,375.97 223.09,375.56 223.87,375.13 224.65,374.66 225.43,374.16 226.21,373.63 227,373.07 227.78,372.47 228.56,371.84 229.34,371.18 230.12,370.48 230.9,369.76 231.68,369 232.47,368.2 233.25,367.38 234.03,366.52 234.81,365.63 235.59,364.71 236.37,363.76 237.15,362.78 237.93,361.76 238.72,360.72 239.5,359.64 240.28,358.54 241.06,357.4 241.84,356.24 242.62,355.04 243.4,353.82 244.19,352.57 244.97,351.3 245.75,350 246.53,348.67 247.31,347.32 248.09,345.94 248.87,344.54 249.65,343.12 250.44,341.68 251.22,340.22 252,338.73 252.78,337.23 253.56,335.71 254.34,334.17 255.12,332.62 255.91,331.05 256.69,329.47 257.47,327.87 258.25,326.26 259.03,324.65 259.81,323.02 260.59,321.38 261.37,319.74 262.16,318.09 262.94,316.44 263.72,314.78 264.5,313.12" fill="none" stroke="#ff0000" stroke-width="1.6" stroke-dasharray="6 5.34" stroke-dashoffset="0.6"/>
<polyline points="30.1,313.12 30.88,311.76 31.66,310.39 32.44,309.03 33.23,307.66 34.01,306.3 34.79,304.94 35.57,303.59 36.35,302.24 37.13,300.89 37.91,299.55 38.69,298.22 39.48,296.89 40.26,295.57 41.04,294.25 41.82,292.95 42.6,291.65 43.38,290.37 44.16,289.09 44.95,287.82 45.73,286.57 46.51,285.33 47.29,284.09 48.07,282.88 48.85,281.67 49.63,280.48 50.41,279.3 51.2,278.14 51.98,276.99 52.76,275.86 53.54,274.75 54.32,273.65 55.1,272.57 55.88,271.51 56.67,270.46 57.45,269.44 58.23,268.43 59.01,267.44 59.79,266.48 60.57,265.53 61.35,264.6 62.13,263.7 62.92,262.82 63.7,261.96 64.48,261.12 65.26,260.3 66.04,259.51 66.82,258.74 67.6,258 68.39,257.28 69.17,256.58 69.95,255.91 70.73,255.26 71.51,254.64 72.29,254.05 73.07,253.48 73.85,252.94 74.64,252.42 75.42,251.93 76.2,251.47 76.98,251.03 77.76,250.62 78.54,250.24 79.32,249.89 80.11,249.56 80.89,249.26 81.67,248.99 82.45,248.75 83.23,248.53 84.01,248.35 84.79,248.19 85.57,248.06 86.36,247.96 87.14,247.89 87.92,247.85 88.7,247.83 89.48,247.85 90.26,247.89 91.04,247.96 91.83,248.06 92.61,248.19 93.39,248.35 94.17,248.53 94.95,248.75 95.73,248.99 96.51,249.26 97.29,249.56 98.08,249.89 98.86,250.24 99.64,250.62 100.42,251.03 101.2,251.47 101.98,251.93 102.76,252.42 103.55,252.94 104.33,253.48 105.11,254.05 105.89,254.64 106.67,255.26 107.45,255.91 108.23,256.58 109.01,257.28 109.8,258 110.58,258.74 111.36,259.51 112.14,260.3 112.92,261.12 113.7,261.96 114.48,262.82 115.27,263.7 116.05,264.6 116.83,265.53 117.61,266.48 118.39,267.44 119.17,268.43 119.95,269.44 120.73,270.46 121.52,271.51 122.3,272.57 123.08,273.65 123.86,274.75 124.64,275.86 125.42,276.99 126.2,278.14 126.99,279.3 127.77,280.48 128.55,281.67 129.33,282.88 130.11,284.09 130.89,285.33 131.67,286.57 132.45,287.82 133.24,289.09 134.02,290.37 134.8,291.65 135.58,292.95 136.36,294.25 137.14,295.57 137.92,296.89 138.71,298.22 139.49,299.55 140.27,300.89 141.05,302.24 141.83,303.59 142.61,304.94 143.39,306.3 144.17,307.66 144.96,309.03 145.74,310.39 146.52,311.76 147.3,313.12 148.08,314.49 148.86,315.86 149.64,317.22 150.43,318.59 151.21,319.95 151.99,321.31 152.77,322.66 153.55,324.01 154.33,325.36 155.11,326.7 155.89,328.03 156.68,329.36 157.46,330.68 158.24,332 159.02,333.3 159.8,334.6 160.58,335.88 161.36,337.16 162.15,338.43 162.93,339.68 163.71,340.92 164.49,342.16 165.27,343.37 166.05,344.58 166.83,345.77 167.61,346.95 168.4,348.11 169.18,349.26 169.96,350.39 170.74,351.5 171.52,352.6 172.3,353.68 173.08,354.74 173.87,355.79 174.65,356.81 175.43,357.82 176.21,358.81 176.99,359.77 177.77,360.72 178.55,361.65 179.33,362.55 180.12,363.43 180.9,364.29 181.68,365.13 182.46,365.95 183.24,366.74 184.02,367.51 184.8,368.25 185.59,368.97 186.37,369.67 187.15,370.34 187.93,370.99 188.71,371.61 189.49,372.2 190.27,372.77 191.05,373.31 191.84,373.83 192.62,374.32 193.4,374.78 194.18,375.22 194.96,375.63 195.74,376.01 196.52,376.36 197.31,376.69 198.09,376.99 198.87,377.26 199.65,377.5 200.43,377.72 201.21,377.9 201.99,378.06 202.77,378.19 203.56,378.29 204.34,378.36 205.12,378.4 205.9,378.42 206.68,378.4 207.46,378.36 208.24,378.29 209.03,378.19 209.81,378.06 210.59,377.9 211.37,377.72 212.15,377.5 212.93,377.26 213.71,376.99 214.49,376.69 215.28,376.36 216.06,376.01 216.84,375.63 217.62,375.22 218.4,374.78 219.18,374.32 219.96,373.83 220.75,373.31 221.53,372.77 222.31,372.2 223.09,371.61 223.87,370.99 224.65,370.34 225.43,369.67 226.21,368.97 227,368.25 227.78,367.51 228.56,366.74 229.34,365.95 230.12,365.13 230.9,364.29 231.68,363.43 232.47,362.55 233.25,361.65 234.03,360.72 234.81,359.77 235.59,358.81 236.37,357.82 237.15,356.81 237.93,355.79 238.72,354.74 239.5,353.68 240.28,352.6 241.06,351.5 241.84,350.39 242.62,349.26 243.4,348.11 244.19,346.95 244.97,345.77 245.75,344.58 246.53,343.37 247.31,342.16 248.09,340.92 248.87,339.68 249.65,338.43 250.44,337.16 251.22,335.88 252,334.6 252.78,333.3 253.56,332 254.34,330.68 255.12,329.36 255.91,328.03 256.69,326.7 257.47,325.36 258.25,324.01 259.03,322.66 259.81,321.31 260.59,319.95 261.37,318.59 262.16,317.22 262.94,315.86 263.72,314.49 264.5,313.12" fill="none" stroke="#0000ff" stroke-width="1.5"/>
<rect x="30.1" y="223.35" width="234.4" height="179.55" fill="none" stroke="#a0a0a0" stroke-width="1"/>
<line x1="30.1" y1="394.74" x2="32.4" y2="394.74" stroke="#a0a0a0" stroke-width="0.6"/>
<line x1="262.2" y1="394.74" x2="264.5" y2="394.74" stroke="#a0a0a0" stroke-width="0.6"/>
<text x="20.62" y="398.24" font-size="7.8" textLength="6.58" lengthAdjust="spacingAndGlyphs">-1</text>
<line x1="30.1" y1="378.42" x2="32.4" y2="378.42" stroke="#a0a0a0" stroke-width="0.6"/>
<line x1="262.2" y1="378.42" x2="264.5" y2="378.42" stroke="#a0a0a0" stroke-width="0.6"/>
<text x="14.45" y="381.92" font-size="7.8" textLength="12.75" lengthAdjust="spacingAndGlyphs">-0.8</text>
<line x1="30.1" y1="362.09" x2="32.4" y2="362.09" stroke="#a0a0a0" stroke-width="0.6"/>
<line x1="262.2" y1="362.09" x2="264.5" y2="362.09" stroke="#a0a0a0" stroke-width="0.6"/>
<text x="14.45" y="365.59" font-size="7.8" textLength="12.75" lengthAdjust="spacingAndGlyphs">-0.6</text>
<line x1="30.1" y1="345.77" x2="32.4" y2="345.77" stroke="#a0a0a0" stroke-width="0.6"/>
<line x1="262.2" y1="345.77" x2="264.5" y2="345.77" stroke="#a0a0a0" stroke-width="0.6"/>
<text x="14.45" y="349.27" font-size="7.8" textLength="12.75" lengthAdjust="spacingAndGlyphs">-0.4</text>
<line x1="30.1" y1="329.45" x2="32.4" y2="329.45" stroke="#a0a0a0" stroke-width="0.6"/>
<line x1="262.2" y1="329.45" x2="264.5" y2="329.45" stroke="#a0a0a0" stroke-width="0.6"/>
<text x="14.45" y="332.95" font-size="7.8" textLength="12.75" lengthAdjust="spacingAndGlyphs">-0.2</text>
<line x1="30.1" y1="313.12" x2="32.4" y2="313.12" stroke="#a0a0a0" stroke-width="0.6"/>
<line x1="262.2" y1="313.12" x2="264.5" y2="313.12" stroke="#a0a0a0" stroke-width="0.6"/>
<text x="23.08" y="316.62" font-size="7.8" textLength="4.12" lengthAdjust="spacingAndGlyphs">0</text>
<line x1="30.1" y1="296.8" x2="32.4" y2="296.8" stroke="#a0a0a0" stroke-width="0.6"/>
<line x1="262.2" y1="296.8" x2="264.5" y2="296.8" stroke="#a0a0a0" stroke-width="0.6"/>
<text x="16.91" y="300.3" font-size="7.8" textLength="10.29" lengthAdjust="spacingAndGlyphs">0.2</text>
<line x1="30.1" y1="280.48" x2="32.4" y2="280.48" stroke="#a0a0a0" stroke-width="0.6"/>
<line x1="262.2" y1="280.48" x2="264.5" y2="280.48" stroke="#a0a0a0" stroke-width="0.6"/>
<text x="16.91" y="283.98" font-size="7.8" textLength="10.29" lengthAdjust="spacingAndGlyphs">0.4</text>
<line x1="30.1" y1="264.16" x2="32.4" y2="264.16" stroke="#a0a0a0" stroke-width="0.6"/>
<line x1="262.2" y1="264.16" x2="264.5" y2="264.16" stroke="#a0a0a0" stroke-width="0.6"/>
<text x="16.91" y="267.66" font-size="7.8" textLength="10.29" lengthAdjust="spacingAndGlyphs">0.6</text>
<line x1="30.1" y1="247.83" x2="32.4" y2="247.83" stroke="#a0a0a0" stroke-width="0.6"/>
<line x1="262.2" y1="247.83" x2="264.5" y2="247.83" stroke="#a0a0a0" stroke-width="0.6"/>
<text x="16.91" y="251.33" font-size="7.8" textLength="10.29" lengthAdjust="spacingAndGlyphs">0.8</text>
<line x1="30.1" y1="231.51" x2="32.4" y2="231.51" stroke="#a0a0a0" stroke-width="0.6"/>
<line x1="262.2" y1="231.51" x2="264.5" y2="231.51" stroke="#a0a0a0" stroke-width="0.6"/>
<text x="23.08" y="235.01" font-size="7.8" textLength="4.12" lengthAdjust="spacingAndGlyphs">1</text>
<g transform="translate(10.5,313.12) rotate(-90)"><text x="-17.72" y="0" font-size="8.8" textLength="35.78" lengthAdjust="spacingAndGlyphs">Amplitude</text></g>
<text x="82.54" y="220.3" font-size="8.8" textLength="129.87" lengthAdjust="spacingAndGlyphs">Modulated yaw driving signal (&#177;8Hz)</text>
<rect x="162" y="229.35" width="97.2" height="19.1" fill="#fff" stroke="#8a8a8a" stroke-width="0.8"/>
<line x1="164.1" y1="234.45" x2="170.1" y2="234.45" stroke="#ff0000" stroke-width="1.6"/>
<line x1="175.6" y1="234.45" x2="181.6" y2="234.45" stroke="#ff0000" stroke-width="1.6"/>
<line x1="164.1" y1="243.75" x2="186.1" y2="243.75" stroke="#0000ff" stroke-width="1.5"/>
<text x="188.25" y="236.95" font-size="6.9" textLength="47.79" lengthAdjust="spacingAndGlyphs">Yaw input signal</text>
<text x="187.85" y="246.25" font-size="6.9" textLength="69.98" lengthAdjust="spacingAndGlyphs">Reference signal (80%)</text>
<text x="135.2" y="209.6" text-anchor="middle" class="pl" font-size="14.5">(<tspan font-weight="bold" font-size="13.5">a</tspan>)</text>
<text x="413.6" y="209.6" text-anchor="middle" class="pl" font-size="14.5">(<tspan font-weight="bold" font-size="13.5">b</tspan>)</text>
<text x="135.2" y="417.8" text-anchor="middle" class="pl" font-size="14.5">(<tspan font-weight="bold" font-size="13.5">c</tspan>)</text>
</svg>
</body></html>
